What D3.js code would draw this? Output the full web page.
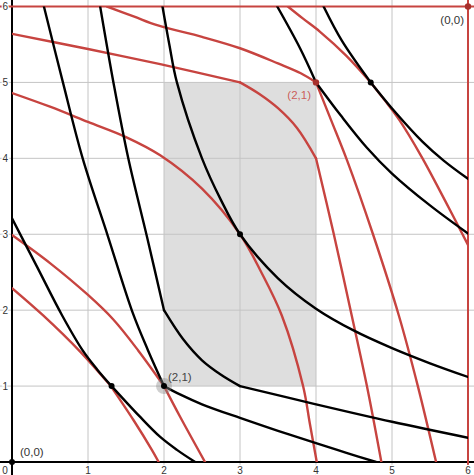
<!DOCTYPE html>
<html lang="en">
<head>
<meta charset="utf-8">
<title>Edgeworth box</title>
<script src="https://d3js.org/d3.v7.min.js"></script>
<style>
body { margin: 0; background: #fff; }
svg { display: block; font-family: "Liberation Sans", Arial, sans-serif; }
.grid line { stroke: #c4c4c4; stroke-width: 1px; }
.curve { fill: none; stroke-width: 2.4px; stroke-linejoin: round; stroke-linecap: round; }
.tick { font-size: 10px; fill: #333; stroke: #fff; stroke-width: 2.5px; paint-order: stroke; }
.lbl { font-size: 11.5px; }
</style>
</head>
<body>
<script>
// tick values (same on both axes)
var tickVals = [0, 1, 2, 3, 4, 5, 6];

// shaded region, A's coordinates
var regionX = [2, 4];
var regionY = [1, 5];

// A's indifference curves (black), A's coordinates, split where they kink
var a1 = [[[0, 3.21], [0.33, 2.57], [0.66, 1.93], [0.93, 1.47], [1.12, 1.22], [1.31, 1]],
          [[1.31, 1], [1.68, 0.6], [1.95, 0.33], [2.17, 0.16], [2.41, 0]]];
var a2 = [[[0.42, 6], [0.67, 5], [0.93, 4], [1.26, 2.98], [1.59, 1.96], [1.79, 1.47], [2, 1]],
          [[2, 1], [2.21, 0.89], [2.5, 0.76], [3, 0.58], [3.5, 0.41], [4, 0.25], [4.4, 0.12], [4.79, 0]]];
var a3 = [[[1.16, 6], [1.34, 4.97], [1.53, 4], [1.78, 2.95], [2, 2]],
          [[2, 2], [2.25, 1.62], [2.5, 1.34], [2.75, 1.15], [3, 1]],
          [[3, 1], [4, 0.76], [5, 0.53], [6, 0.32]]];
var a4 = [[[1.98, 6], [2.07, 5.5], [2.17, 5], [2.5, 4], [2.75, 3.45], [3, 3], [3.5, 2.42], [4, 2.02],
           [4.5, 1.73], [5, 1.5], [5.5, 1.3], [6, 1.12]]];
var a5 = [[[3.49, 6], [3.79, 5.45], [4, 5]],
          [[4, 5], [4.33, 4.56], [4.67, 4.14], [5, 3.8], [5.5, 3.38], [6, 3.01]]];
var a6 = [[[4.1, 6], [4.34, 5.55], [4.72, 5]],
          [[4.72, 5], [5.05, 4.6], [5.4, 4.22], [5.68, 3.97], [6, 3.73]]];

// B's indifference curves (red), B's coordinates (origin at top right)
var b1 = [[[0, 3.14], [0.3, 2.56], [0.61, 1.98], [0.9, 1.5], [1.1, 1.23], [1.28, 1]],
          [[1.28, 1], [1.6, 0.65], [1.95, 0.33], [2.17, 0.16], [2.37, 0]]];
var b2 = [[[0.42, 6], [0.66, 5], [0.91, 4.07], [1.25, 3], [1.59, 2.03], [1.8, 1.5], [2, 1]],
          [[2, 1], [2.2, 0.88], [2.5, 0.75], [3, 0.55], [3.5, 0.4], [4.08, 0.25], [4.4, 0.13], [4.75, 0]]];
var b3 = [[[1.14, 6], [1.33, 5], [1.53, 4.07], [1.77, 2.98], [2, 2]],
          [[2, 2], [2.25, 1.6], [2.5, 1.34], [2.75, 1.15], [3, 1]],
          [[3, 1], [4.05, 0.76], [5, 0.56], [6, 0.36]]];
var b4 = [[[1.99, 6], [2.08, 5.5], [2.17, 5], [2.45, 4.07], [2.72, 3.5], [3, 3], [3.5, 2.4], [4.05, 1.96],
           [4.5, 1.72], [5, 1.52], [5.5, 1.32], [6, 1.14]]];
var b5 = [[[3.46, 6], [3.79, 5.4], [4, 5]],
          [[4, 5], [4.34, 4.53], [4.67, 4.12], [5, 3.8], [5.5, 3.38], [6, 3.01]]];
var b6 = [[[4.07, 6], [4.16, 5.84], [4.4, 5.45], [4.7, 5]],
          [[4.7, 5], [5.1, 4.55], [5.59, 4.07], [6, 3.71]]];

var curvesA = [a1, a2, a3, a4, a5, a6];
var curvesB = [b1, b2, b3, b4, b5, b6];

// points
var dotsA = [[0, 0], [1.31, 1], [2, 1], [3, 3]];
var dotsB = [[1.28, 1]];          // black dot, given in B's coordinates
var redDotsB = [[0, 0], [2, 1]];  // B's origin and endowment
var haloA = [[2, 1]];

var w = 474;
var h = 475;

var svg = d3.select("body")
            .append("svg")
            .attr("width", w)
            .attr("height", h);

// A's scales and B's (reversed) scales
var x = d3.scaleLinear().domain([0, 6]).range([12, 468]);
var y = d3.scaleLinear().domain([0, 6]).range([462, 6.5]);
var xB = d3.scaleLinear().domain([6, 0]).range([12, 468]);
var yB = d3.scaleLinear().domain([6, 0]).range([462, 6.5]);

var red = "#c74440";

// shaded region
svg.append("rect")
   .attr("x", x(regionX[0]))
   .attr("y", y(regionY[1]))
   .attr("width", x(regionX[1]) - x(regionX[0]))
   .attr("height", y(regionY[0]) - y(regionY[1]))
   .attr("fill", "#dedede");

// grid
var grid = svg.append("g").attr("class", "grid");
grid.selectAll(".gx")
    .data(tickVals.slice(1, 6))
  .enter().append("line")
    .attr("x1", function(d) { return x(d); })
    .attr("x2", function(d) { return x(d); })
    .attr("y1", 0).attr("y2", h);
grid.selectAll(".gy")
    .data(tickVals.slice(1, 6))
  .enter().append("line")
    .attr("y1", function(d) { return y(d); })
    .attr("y2", function(d) { return y(d); })
    .attr("x1", 0).attr("x2", w);

// A's axes (black) and B's axes (red)
svg.append("line").attr("x1", x(0)).attr("x2", x(0)).attr("y1", 0).attr("y2", h)
   .attr("stroke", "#000").attr("stroke-width", 2);
svg.append("line").attr("y1", y(0)).attr("y2", y(0)).attr("x1", 0).attr("x2", w)
   .attr("stroke", "#000").attr("stroke-width", 2);
svg.append("line").attr("x1", xB(0)).attr("x2", xB(0)).attr("y1", 0).attr("y2", h)
   .attr("stroke", red).attr("stroke-width", 2);
svg.append("line").attr("y1", yB(0)).attr("y2", yB(0)).attr("x1", 0).attr("x2", w)
   .attr("stroke", red).attr("stroke-width", 2);

// clip curves to the box
svg.append("clipPath").attr("id", "box")
  .append("rect")
   .attr("x", x(0)).attr("y", y(6))
   .attr("width", x(6) - x(0)).attr("height", y(0) - y(6));

var lineA = d3.line()
              .x(function(d) { return x(d[0]); })
              .y(function(d) { return y(d[1]); })
              .curve(d3.curveCatmullRom.alpha(0.5));
var lineB = d3.line()
              .x(function(d) { return xB(d[0]); })
              .y(function(d) { return yB(d[1]); })
              .curve(d3.curveCatmullRom.alpha(0.5));

var curves = svg.append("g").attr("clip-path", "url(#box)");

curves.selectAll(".cb")
      .data(curvesB.flat())
    .enter().append("path")
      .attr("class", "curve")
      .attr("stroke", red)
      .attr("d", lineB);

curves.selectAll(".ca")
      .data(curvesA.flat())
    .enter().append("path")
      .attr("class", "curve")
      .attr("stroke", "#000")
      .attr("d", lineA);

// halo on the draggable endowment point
svg.selectAll(".halo")
   .data(haloA)
 .enter().append("circle")
   .attr("cx", function(d) { return x(d[0]); })
   .attr("cy", function(d) { return y(d[1]); })
   .attr("r", 8)
   .attr("fill", "#888")
   .attr("fill-opacity", 0.4);

svg.selectAll(".dotA")
   .data(dotsA)
 .enter().append("circle")
   .attr("cx", function(d) { return x(d[0]); })
   .attr("cy", function(d) { return y(d[1]); })
   .attr("r", 3)
   .attr("fill", "#000");

svg.selectAll(".dotB")
   .data(dotsB)
 .enter().append("circle")
   .attr("cx", function(d) { return xB(d[0]); })
   .attr("cy", function(d) { return yB(d[1]); })
   .attr("r", 3)
   .attr("fill", "#000");

svg.selectAll(".dotR")
   .data(redDotsB)
 .enter().append("circle")
   .attr("cx", function(d) { return xB(d[0]); })
   .attr("cy", function(d) { return yB(d[1]); })
   .attr("r", 3.2)
   .attr("fill", "#a8302c");

// tick labels
svg.selectAll(".tx")
   .data(tickVals.slice(1))
 .enter().append("text")
   .attr("class", "tick")
   .attr("x", function(d) { return x(d); })
   .attr("y", 473.5)
   .attr("text-anchor", "middle")
   .text(function(d) { return d; });

svg.selectAll(".ty")
   .data(tickVals.slice(1))
 .enter().append("text")
   .attr("class", "tick")
   .attr("x", 8)
   .attr("y", function(d) { return y(d) + 3.5; })
   .attr("text-anchor", "end")
   .text(function(d) { return d; });

svg.append("text").attr("class", "tick")
   .attr("x", 5).attr("y", 473.5).attr("text-anchor", "middle").text("0");

// point labels
svg.append("text").attr("class", "lbl")
   .attr("x", x(0) + 8).attr("y", y(0) - 6)
   .attr("fill", "#333").text("(0,0)");
svg.append("text").attr("class", "lbl")
   .attr("x", x(2) + 4).attr("y", y(1) - 5)
   .attr("fill", "#444").text("(2,1)");
svg.append("text").attr("class", "lbl")
   .attr("x", xB(0) - 4).attr("y", yB(0) + 17)
   .attr("text-anchor", "end")
   .attr("fill", "#333").text("(0,0)");
svg.append("text").attr("class", "lbl")
   .attr("x", xB(2) - 5).attr("y", yB(1) + 17)
   .attr("text-anchor", "end")
   .attr("fill", red).attr("fill-opacity", 0.85).text("(2,1)");
</script>
</body>
</html>
